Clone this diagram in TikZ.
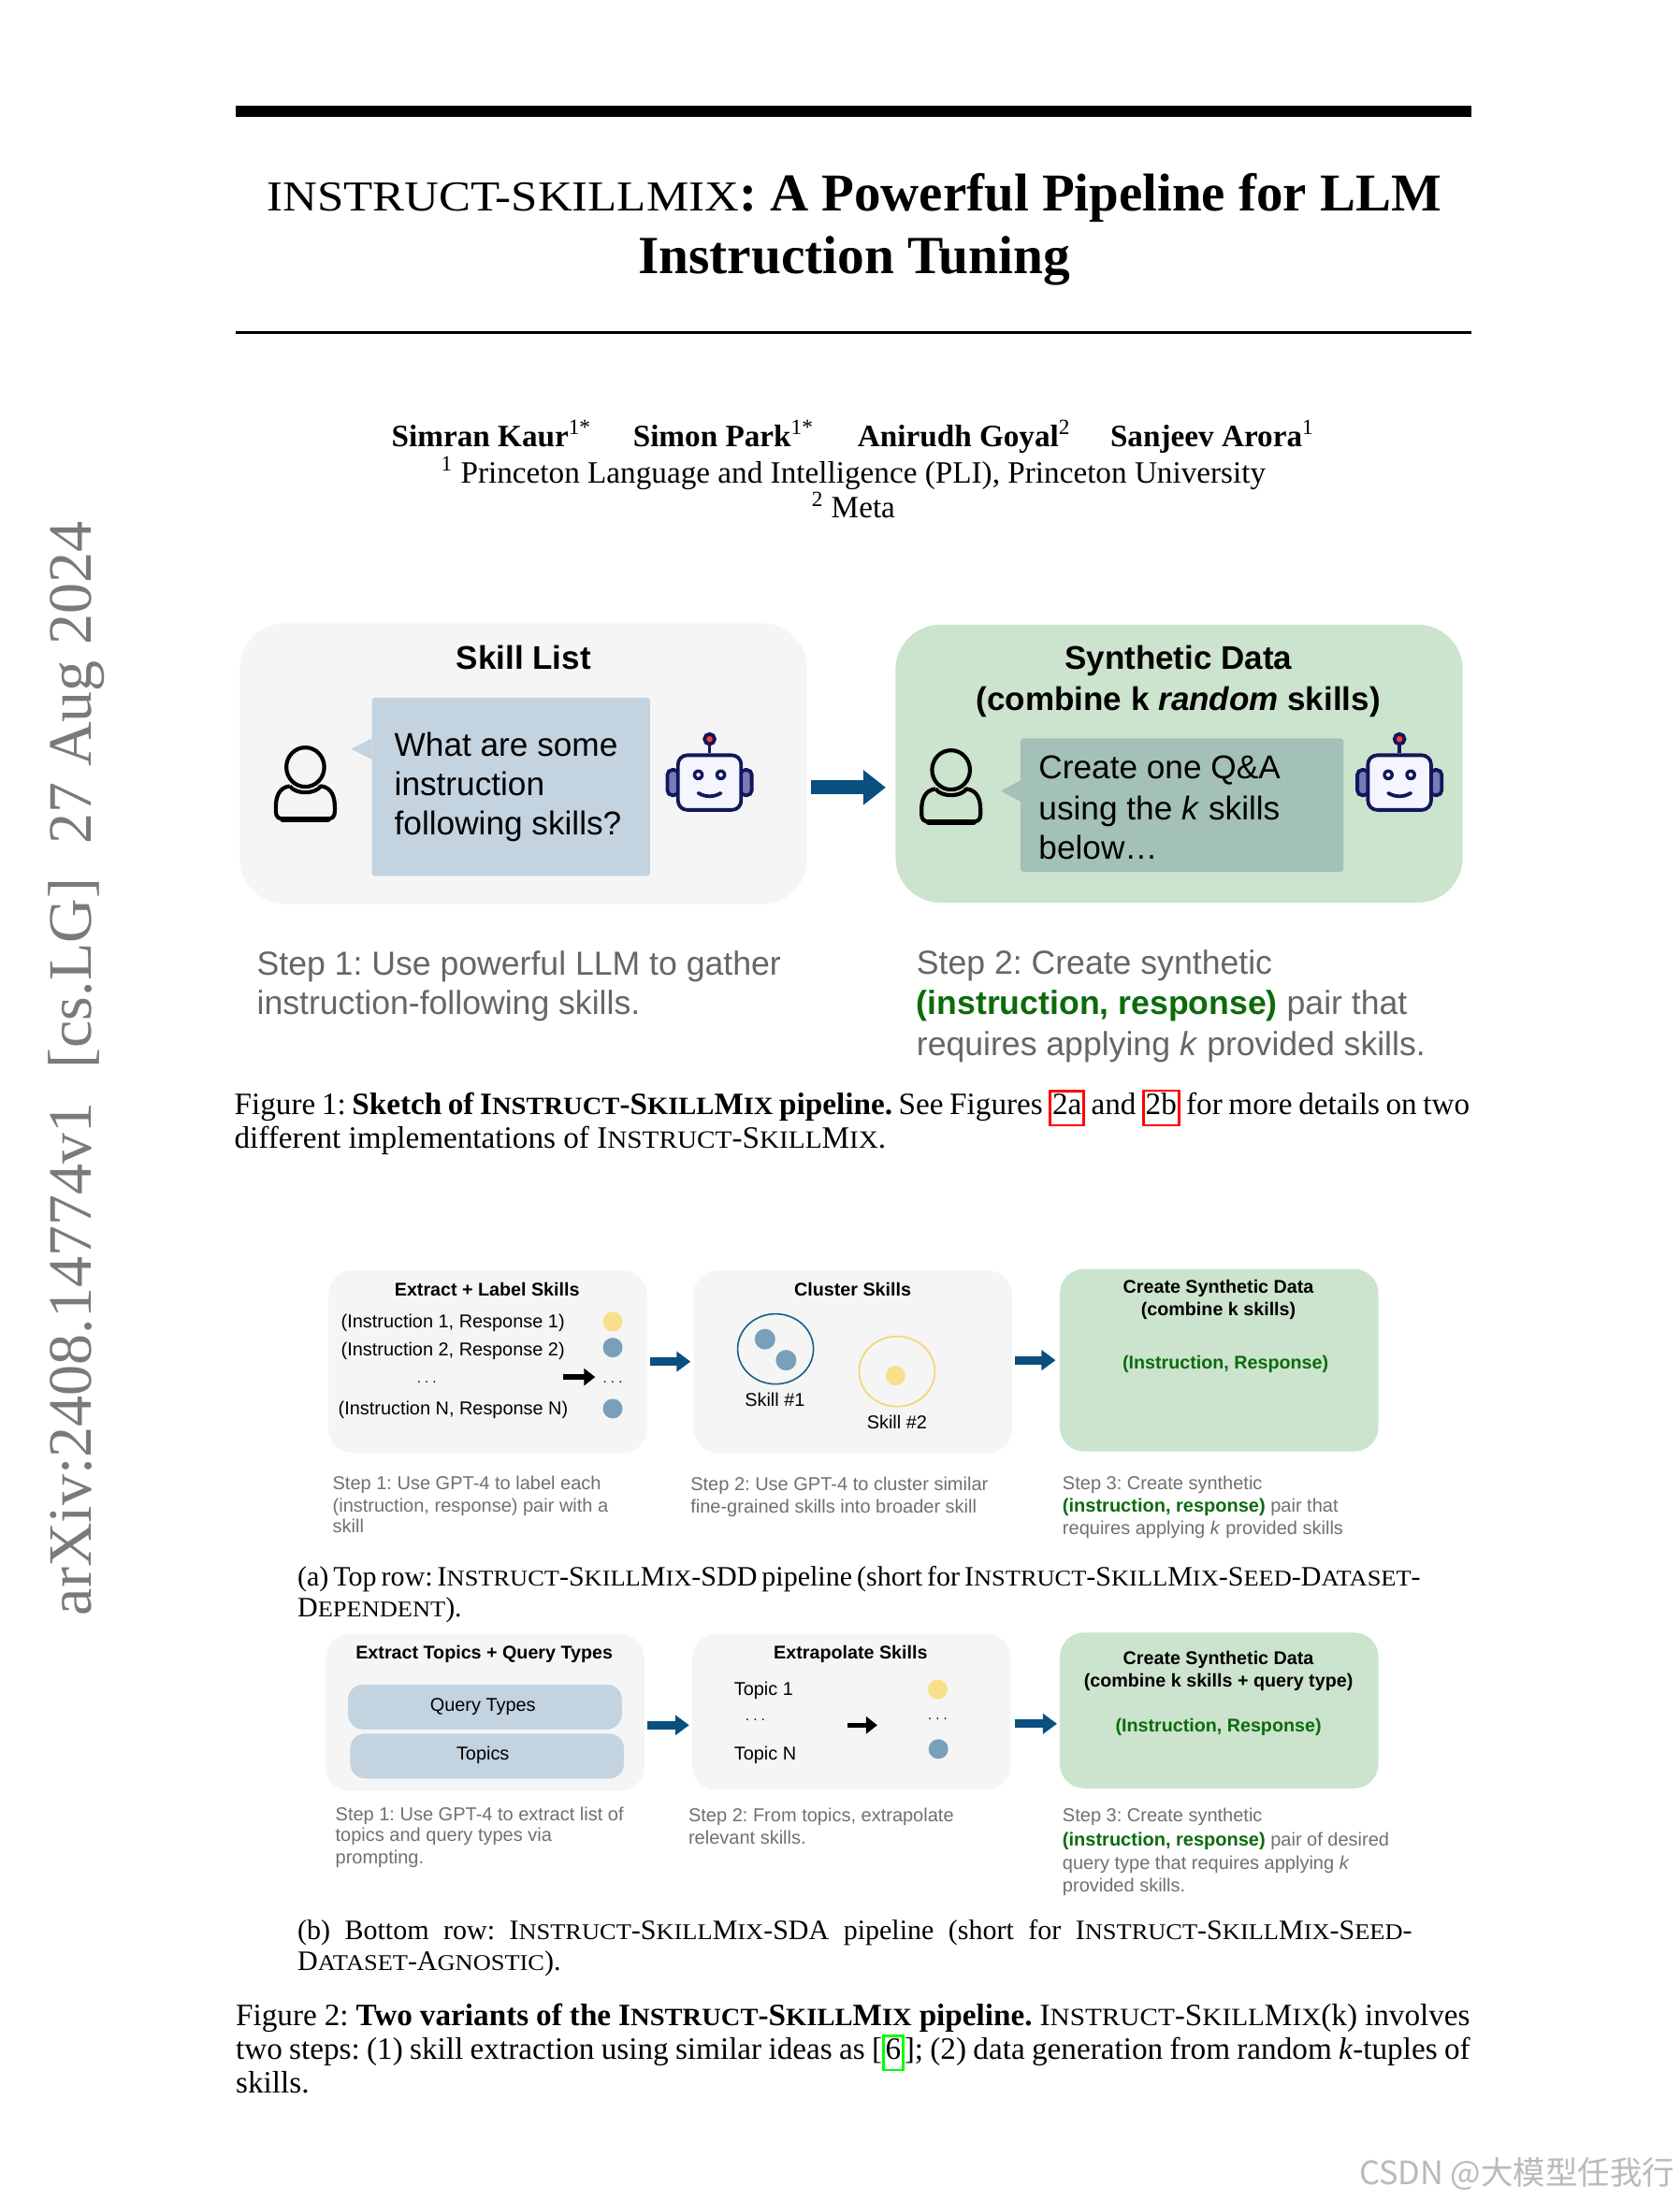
\documentclass[tikz,border=0pt]{standalone}
\usepackage{fontspec}
\usepackage{graphicx}
\setmainfont{Liberation Serif}
\newfontfamily\hv{Liberation Sans}
\newfontfamily\cjkwm{Noto Sans CJK SC}
\usetikzlibrary{arrows.meta,shapes.geometric}
\frenchspacing
\definecolor{grayBox}{HTML}{F5F5F5}
\definecolor{greenBox}{HTML}{CCE3CD}
\definecolor{bubA}{HTML}{C3D3DF}
\definecolor{bubB}{HTML}{A3C0B9}
\definecolor{capGray}{HTML}{666666}
\definecolor{capGrayS}{HTML}{707070}
\definecolor{dGreen}{HTML}{0B6B0B}
\definecolor{arrBlue}{HTML}{0A4F80}
\definecolor{dotY}{HTML}{F8DF8C}
\definecolor{dotB}{HTML}{7A9FBB}
\definecolor{navy}{HTML}{10185A}
\definecolor{ringB}{HTML}{1B5E85}
\definecolor{ringY}{HTML}{F2D66C}
\newcommand\smc[1]{\scalebox{.88}[.8]{#1}}
\newcommand\smcb[1]{\scalebox{.86}[.8]{#1}}
\newcommand\IS{I\smc{NSTRUCT}-S\smc{KILL}M\smc{IX}}
\newcommand\lnk[2]{{\fboxsep=0.5pt\fboxrule=1.3pt\color{#1}\fbox{\color{black}\rule[-4.6pt]{0pt}{16pt}#2}}}
\newcommand\rbox[6]{\pgfmathsetmacro\rw{(#4-#2)*.75}\pgfmathsetmacro\rh{(#5-#3)*.75}%
  \node[#6, minimum width=\rw pt, minimum height=\rh pt, inner sep=0pt, outer sep=0pt] (#1) at ({(#2+#4)/2},{(#3+#5)/2}) {};}
\tikzset{
  x=0.75pt,y=-0.75pt,
  tl/.style={anchor=base west,inner sep=0pt,outer sep=0pt},
  tc/.style={anchor=base,inner sep=0pt,outer sep=0pt},
  body/.style={font=\fontsize{16.6}{18.3}\selectfont},
  subc/.style={font=\fontsize{15}{18.3}\selectfont},
  big/.style={font=\hv\fontsize{17.6}{21}\selectfont},
  bigb/.style={font=\hv\bfseries\fontsize{17.5}{21}\selectfont},
  bigcap/.style={font=\hv\fontsize{17.8}{21}\selectfont,text=capGray},
  sm/.style={font=\hv\fontsize{9.95}{12}\selectfont},
  smb/.style={font=\hv\bfseries\fontsize{9.85}{12}\selectfont},
  smcap/.style={font=\hv\fontsize{10}{12}\selectfont,text=capGrayS},
  tiny3/.style={font=\hv\fontsize{7.5}{9}\selectfont},
  panelg/.style={fill=grayBox,rounded corners=#1},
  panelg/.default=22pt,
  panelc/.style={fill=greenBox,rounded corners=#1},
  panelc/.default=22pt,
  pill/.style={fill=bubA,rounded corners=8pt},
  bubble/.style={rounded corners=1.5pt},
  dot/.style={circle,inner sep=0pt,minimum size=10.5pt},
  bigarrow/.style={draw=arrBlue,line width=7.5pt,-{Triangle[length=12pt,width=18pt,fill=arrBlue]}},
  midarrow/.style={draw=arrBlue,line width=4.6pt,-{Triangle[length=7.5pt,width=10.5pt,fill=arrBlue]}},
  blkarrow/.style={draw=black,line width=2.8pt,-{Triangle[length=6pt,width=9pt,fill=black]}},
  person/.pic={
    \draw[line width=2.1pt] (0,14.5) circle[x radius=13.5,y radius=14];
    \draw[line width=2.1pt,line join=round] (-11,28) .. controls (-19,29) and (-21,36) .. (-21,43)
      -- (-21,46) .. controls (-21,50) and (-19,51.5) .. (-15,51.5) -- (15,51.5)
      .. controls (19,51.5) and (21,50) .. (21,46) -- (21,43)
      .. controls (21,36) and (19,29) .. (11,28) .. controls (7,34) and (-7,34) .. (-11,28);
    \draw[line width=3pt,line cap=round] (-16,52) -- (16,52);
  },
  robot/.pic={
    \draw[navy,line width=1.9pt] (0,-21) -- (0,-30);
    \draw[navy,line width=1.9pt,fill=white!10!red!80!pink] (0,-31) circle[radius=3.6];
    \draw[navy,line width=1.9pt,fill=gray!70!blue!80,rounded corners=2.5pt] (-30,-9) rectangle (-22,9);
    \draw[navy,line width=1.9pt,fill=gray!70!blue!80,rounded corners=2.5pt] (22,-9) rectangle (30,9);
    \draw[navy,line width=1.9pt,fill=blue!4!white,rounded corners=5pt] (-22.5,-19.5) rectangle (22.5,19.5);
    \fill[navy] (-8,-5.5) circle[radius=3.9];
    \fill[navy] (8,-5.5) circle[radius=3.9];
    \fill[white] (-8,-5.5) circle[radius=1.5];
    \fill[white] (8,-5.5) circle[radius=1.5];
    \draw[navy,line width=1.9pt,line cap=round] (-8,7.5) .. controls (-3,10.5) and (3,10.5) .. (8,7.5);
  },
}
\begin{document}
\begin{tikzpicture}
\useasboundingbox (0,0) rectangle (1196.3,1568);
\fill[white] (0,0) rectangle (1196.3,1568);
% sidebar
\node[tl,rotate=90,text=black!52,font=\fontsize{33}{36}\selectfont] (side) at (65,1151) {arXiv:2408.14774v1\hspace{10pt} [cs.LG]\hspace{10pt} 27 Aug 2024};
% title block
\rbox{ruleA}{168}{75}{1048}{83.5}{fill=black}
\rbox{ruleB}{168}{236}{1048}{238}{fill=black}
\node[tc,font=\fontsize{28.45}{33}\selectfont] (t1) at (608.5,150) {\scalebox{.895}[.8]{INSTRUCT-SKILLMIX}\textbf{: A Powerful Pipeline for LLM}};
\node[tc,font=\bfseries\fontsize{28.7}{33}\selectfont] (t2) at (608.5,195) {Instruction Tuning};
% authors
\node[tl,body] (au1) at (279,318) {\textbf{Simran Kaur}\textsuperscript{1*}};
\node[tl,body] (au2) at (451,318) {\textbf{Simon Park}\textsuperscript{1*}};
\node[tl,body] (au3) at (611,318) {\textbf{Anirudh Goyal}\textsuperscript{2}};
\node[tl,body] (au4) at (791,318) {\textbf{Sanjeev Arora}\textsuperscript{1}};
\node[tc,body] (af1) at (608,344) {\textsuperscript{1} Princeton Language and Intelligence (PLI), Princeton University};
\node[tc,body] (af2) at (608,369) {\textsuperscript{2} Meta};
% figure 1
\rbox{pA}{171}{444}{575}{644}{panelg=24pt}
\rbox{pB}{638}{445}{1042}{643}{panelc=24pt}
\node[tc,bigb] (pAt) at (373,476.5) {Skill List};
\node[tc,bigb] (pBt1) at (839.5,477) {Synthetic Data};
\node[tc,bigb] (pBt2) at (839.5,506) {(combine k \textit{random} skills)};
\rbox{bA}{265}{497}{463}{624}{bubble,fill=bubA}
\fill[bubA] (265,526) -- (250,533.5) -- (265,541) -- cycle;
\rbox{bB}{727}{526}{957}{621}{bubble,fill=bubB}
\fill[bubB] (727,556) -- (713,563.5) -- (727,571) -- cycle;
\node[tl,big] (bA1) at (281,539) {What are some};
\node[tl,big] (bA2) at (281,567) {instruction};
\node[tl,big] (bA3) at (281,595) {following skills?};
\node[tl,big] (bB1) at (740,554.5) {Create one Q\&A};
\node[tl,big] (bB2) at (740,584) {using the \textit{k} skills};
\node[tl,big] (bB3) at (740,612) {below…};
\pic (pers1) at (217.5,532) {person};
\pic (pers2) at (677.5,534) {person};
\pic (rob1) at (505.5,557.5) {robot};
\pic (rob2) at (997,557.5) {robot};
\coordinate (arA) at (578,561);
\coordinate (arB) at (631,561);
\draw[bigarrow] (arA) -- (arB);
\node[tl,bigcap] (c1a) at (183,695) {Step 1: Use powerful LLM to gather};
\node[tl,bigcap] (c1b) at (183,723) {instruction-following skills.};
\node[tl,bigcap] (c2a) at (653,694) {Step 2: Create synthetic};
\node[tl,bigcap] (c2b) at (653,723) {\textcolor{dGreen}{\textbf{(instruction, response)}} pair that};
\node[tl,bigcap] (c2c) at (653,752) {requires applying \textit{k} provided skills.};
\node[tl,body] (f1a) at (167,794) {\makebox[660pt][s]{Figure 1: \textbf{Sketch of I\smcb{NSTRUCT}-S\smcb{KILL}M\smcb{IX} pipeline.} See Figures \lnk{red}{2a} and \lnk{red}{2b} for more details on two}};
\node[tl,body] (f1b) at (167,818) {different implementations of \IS.};
% row a
\rbox{a1}{234}{905}{461}{1035}{panelg=13pt}
\rbox{a2}{494}{905}{721}{1035}{panelg=13pt}
\rbox{a3}{755}{904}{982}{1034}{panelc=13pt}
\node[tc,smb] (a1t) at (347,923) {Extract + Label Skills};
\node[tl,sm] (a1a) at (243,946) {(Instruction 1, Response 1)};
\node[tl,sm] (a1b) at (243,966) {(Instruction 2, Response 2)};
\node[tc,tiny3] (a1c) at (304,985) {. . .};
\node[tl,sm] (a1d) at (241,1008) {(Instruction N, Response N)};
\node[dot,fill=dotY] (ad1) at (436.5,941.5) {};
\node[dot,fill=dotB] (ad2) at (436.5,960) {};
\node[tc,tiny3] (ad3) at (436.5,985) {. . .};
\node[dot,fill=dotB] (ad4) at (436.5,1003.5) {};
\coordinate (abA) at (401,981);
\coordinate (abB) at (424,981);
\draw[blkarrow] (abA) -- (abB);
\node[tc,smb] (a2t) at (607.5,923) {Cluster Skills};
\node[draw=ringB,line width=0.8pt,ellipse,minimum width=40.5pt,minimum height=37.5pt,inner sep=0pt] (rg1) at (552.5,961) {};
\node[dot,fill=dotB,minimum size=11pt] (rd1) at (545,954) {};
\node[dot,fill=dotB,minimum size=11pt] (rd2) at (560,969) {};
\node[tc,sm] (rl1) at (552,1002) {Skill \#1};
\node[draw=ringY,line width=0.8pt,ellipse,minimum width=40.5pt,minimum height=37.5pt,inner sep=0pt] (rg2) at (639,977) {};
\node[dot,fill=dotY] (rd3) at (638,980) {};
\node[tc,sm] (rl2) at (639,1018) {Skill \#2};
\node[tc,smb] (a3t1) at (868,921) {Create Synthetic Data};
\node[tc,smb] (a3t2) at (868,937) {(combine k skills)};
\node[tc,smb,text=dGreen] (a3g) at (873,975) {(Instruction, Response)};
\coordinate (aaA) at (463,970);
\coordinate (aaB) at (492,970);
\coordinate (abC) at (723,969);
\coordinate (abD) at (752,969);
\draw[midarrow] (aaA) -- (aaB);
\draw[midarrow] (abC) -- (abD);
\node[tl,smcap] (ac1a) at (237,1061) {Step 1: Use GPT-4 to label each};
\node[tl,smcap] (ac1b) at (237,1077) {(instruction, response) pair with a};
\node[tl,smcap] (ac1c) at (237,1092) {skill};
\node[tl,smcap] (ac2a) at (492,1062) {Step 2: Use GPT-4 to cluster similar};
\node[tl,smcap] (ac2b) at (492,1078) {fine-grained skills into broader skill};
\node[tl,smcap] (ac3a) at (757,1061) {Step 3: Create synthetic};
\node[tl,smcap] (ac3b) at (757,1077) {\textcolor{dGreen}{\textbf{(instruction, response)}} pair that};
\node[tl,smcap] (ac3c) at (757,1093) {requires applying \textit{k} provided skills};
\node[tl,subc] (sa1) at (212,1130) {\makebox[595.5pt][s]{(a) Top row: \IS-SDD pipeline (short for \IS-S\smc{EED}-D\smc{ATASET}-}};
\node[tl,subc] (sa2) at (212,1152) {D\smc{EPENDENT}).};
% row b
\rbox{b1}{232}{1164}{459}{1276}{panelg=13pt}
\rbox{b2}{493}{1164}{720}{1275}{panelg=13pt}
\rbox{b3}{755}{1163}{982}{1274}{panelc=13pt}
\node[tc,smb] (b1t) at (345,1182) {Extract Topics + Query Types};
\rbox{q1}{248}{1200}{443}{1232}{pill}
\rbox{q2}{249.5}{1235}{444.5}{1267}{pill}
\node[tc,sm] (q1t) at (344,1219) {Query Types};
\node[tc,sm] (q2t) at (344,1254) {Topics};
\node[tc,smb] (b2t) at (606,1182) {Extrapolate Skills};
\node[tl,sm] (tp1) at (523,1208) {Topic 1};
\node[tc,tiny3] (tp2) at (538,1226) {. . .};
\node[tl,sm] (tp3) at (523,1254) {Topic N};
\coordinate (bbA) at (604,1229);
\coordinate (bbB) at (625,1229);
\draw[blkarrow] (bbA) -- (bbB);
\node[dot,fill=dotY] (bd1) at (668,1203.5) {};
\node[tc,tiny3] (bd2) at (668,1225) {. . .};
\node[dot,fill=dotB] (bd3) at (668.5,1246) {};
\node[tc,smb] (b3t1) at (868,1186) {Create Synthetic Data};
\node[tc,smb] (b3t2) at (868,1202) {(combine k skills + query type)};
\node[tc,smb,text=dGreen] (b3g) at (868,1234) {(Instruction, Response)};
\coordinate (baA) at (461,1229);
\coordinate (baB) at (491,1229);
\coordinate (baC) at (723,1228);
\coordinate (baD) at (753,1228);
\draw[midarrow] (baA) -- (baB);
\draw[midarrow] (baC) -- (baD);
\node[tl,smcap] (bc1a) at (239,1297) {Step 1: Use GPT-4 to extract list of};
\node[tl,smcap] (bc1b) at (239,1312) {topics and query types via};
\node[tl,smcap] (bc1c) at (239,1328) {prompting.};
\node[tl,smcap] (bc2a) at (490.5,1298) {Step 2: From topics, extrapolate};
\node[tl,smcap] (bc2b) at (490.5,1314) {relevant skills.};
\node[tl,smcap] (bc3a) at (757,1298) {Step 3: Create synthetic};
\node[tl,smcap] (bc3b) at (757,1315) {\textcolor{dGreen}{\textbf{(instruction, response)}} pair of desired};
\node[tl,smcap] (bc3c) at (757,1332) {query type that requires applying \textit{k}};
\node[tl,smcap] (bc3d) at (757,1348) {provided skills.};
\node[tl,subc] (sb1) at (212,1382) {\makebox[595.5pt][s]{(b) Bottom row: \IS-SDA pipeline (short for \IS-S\smc{EED}-}};
\node[tl,subc] (sb2) at (212,1404) {D\smc{ATASET}-A\smc{GNOSTIC}).};
\node[tl,body] (f2a) at (168,1443) {\makebox[659.5pt][s]{Figure 2: \textbf{Two variants of the I\smcb{NSTRUCT}-S\smcb{KILL}M\smcb{IX} pipeline.} \IS(k) involves}};
\node[tl,body] (f2b) at (168,1467) {\makebox[659.5pt][s]{two steps: (1) skill extraction using similar ideas as [\lnk{green}{6}]; (2) data generation from random \textit{k}-tuples of}};
\node[tl,body] (f2c) at (168,1491) {skills.};
% watermark
\node[anchor=base east,inner sep=0pt,text=black!27,font=\cjkwm\fontsize{17.2}{20}\selectfont] (wm) at (1193,1556) {CSDN @大模型任我行};
\end{tikzpicture}
\end{document}
